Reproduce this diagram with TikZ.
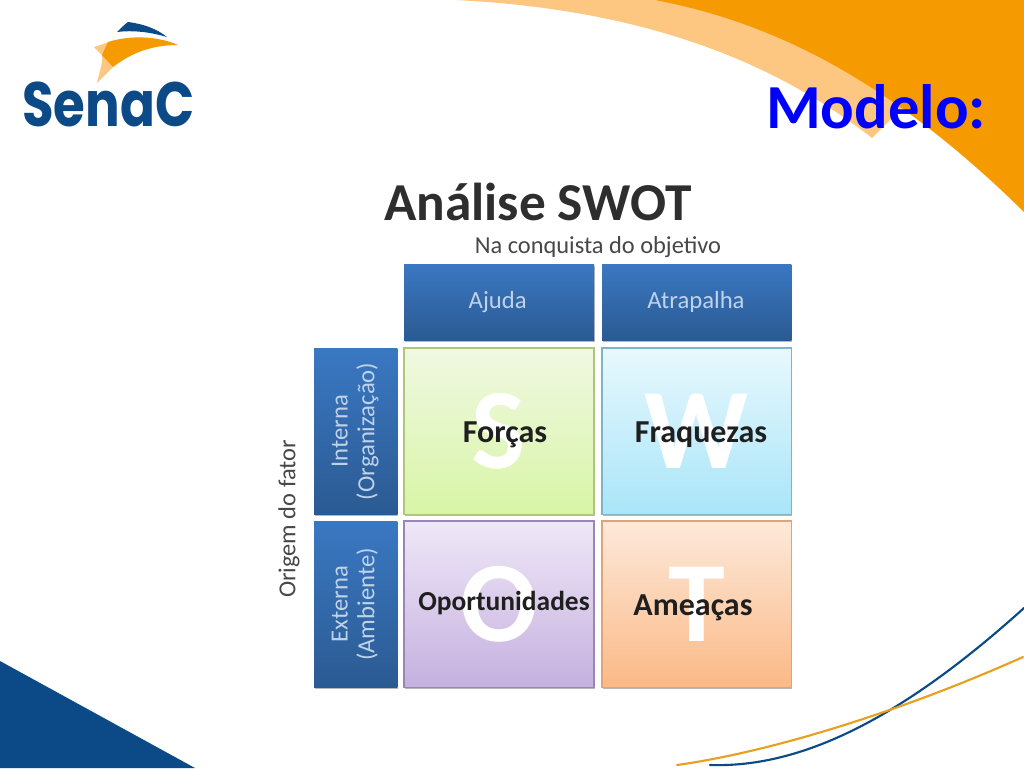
\documentclass[tikz,border=0pt]{standalone}
\usepackage{fontspec}
\setmainfont{Carlito}
\newfontfamily\logofont{Poppins}
\usetikzlibrary{shadows}
\definecolor{navy}{HTML}{0B4A86}
\definecolor{orangeM}{HTML}{F59A00}
\definecolor{orangeL}{HTML}{FDC681}
\definecolor{orangeLine}{HTML}{E8A020}
\definecolor{bluetop}{HTML}{3A78C2}
\definecolor{bluebot}{HTML}{2B5A92}
\definecolor{labeltxt}{HTML}{BFD2EA}
\definecolor{titletxt}{HTML}{2E2E2E}
\definecolor{gtop}{HTML}{F0F8E2}\definecolor{gbot}{HTML}{D8F5A6}\definecolor{gline}{HTML}{AEC57C}
\definecolor{ctop}{HTML}{E8F8FD}\definecolor{cbot}{HTML}{A9E5F9}\definecolor{cline}{HTML}{7FB4C8}
\definecolor{ptop}{HTML}{EFE8F7}\definecolor{pbot}{HTML}{C5B0DF}\definecolor{pline}{HTML}{9A86B4}
\definecolor{otop}{HTML}{FDE9DB}\definecolor{obot}{HTML}{FBB985}\definecolor{oline}{HTML}{DFA478}
\tikzset{
  px/.style={x=0.75pt,y=-0.75pt},
  shade box/.style={drop shadow={shadow xshift=0.5pt,shadow yshift=-1.2pt,opacity=0.28,fill=black}},
  headbox/.style={rectangle,inner sep=0pt,outer sep=0pt,shade box,top color=bluetop,bottom color=bluebot,align=center,text=labeltxt,font=\fontsize{18.5}{20}\selectfont},
  quad/.style={rectangle,inner sep=0pt,outer sep=0pt,shade box,line width=0.9pt,align=center,anchor=north west,minimum height=125pt},
  big/.style={text=white,font=\bfseries\fontsize{86}{86}\selectfont,inner sep=0pt},
  word/.style={text=black!88,font=\bfseries\fontsize{24}{26}\selectfont,inner sep=0pt,anchor=base},
  side/.style={text=black!72,font=\fontsize{18.3}{20}\selectfont,inner sep=0pt},
}
\begin{document}
\begin{tikzpicture}[px]
\useasboundingbox (0,0) rectangle (1024,768);
\fill[white] (0,0) rectangle (1024,768);
% orange swooshes
\fill[orangeL] (455,0) .. controls (620,8) and (760,50) .. (872,138) -- (905,105) -- (1024,0) -- cycle;
\fill[orangeM] (655,0) .. controls (760,20) and (880,70) .. (1024,212) -- (1024,0) -- cycle;
% logo
\fill[navy] (117,32) .. controls (121,28) and (124,25) .. (128,22) .. controls (144,24) and (157,29) .. (167,37) .. controls (150,32) and (133,30) .. (117,32) -- cycle;
\fill[orangeL] (94,47) -- (112,41) -- (113,67) -- (97,83) .. controls (100,70) and (103,62) .. (102,55) -- cycle;
\fill[orangeM] (108,42) .. controls (130,35) and (158,36) .. (178,45) .. controls (150,45) and (130,54) .. (113,67) -- (102,55) -- cycle;
\begin{scope}
\clip (0,60) rectangle (191,140);
\node[name=logo,inner sep=0pt,anchor=base west,text=navy] at (22,126) {\scalebox{0.82}[1]{\logofont\bfseries\fontsize{47}{47}\selectfont SenaC}};
\end{scope}
% title
\node[name=modelo,inner sep=0pt,anchor=base,text=blue,font=\bfseries\fontsize{47}{47}\selectfont] at (876,128) {Modelo:};
\node[name=title,inner sep=0pt,anchor=base,text=titletxt,font=\bfseries\fontsize{40}{40}\selectfont] at (538,220) {Análise SWOT};
\node[name=conq,side,anchor=base] at (598,253) {Na conquista do objetivo};
% header boxes
\node[name=ajuda,headbox,anchor=north west,minimum width=142.5pt,minimum height=57pt] at (404,264) {Ajuda\hspace{2pt}};
\node[name=atrap,headbox,anchor=north west,minimum width=142pt,minimum height=57pt] at (602,264) {Atrapalha\hspace{1pt}};
\node[name=interna,headbox,anchor=north west,minimum width=62.5pt,minimum height=125pt] at (314,348) {\rotatebox{90}{\begin{tabular}{@{}c@{}}Interna\\(Organização)\end{tabular}}};
\node[name=externa,headbox,anchor=north west,minimum width=62.5pt,minimum height=125pt] at (314,521) {\rotatebox{90}{\begin{tabular}{@{}c@{}}Externa\\(Ambiente)\end{tabular}}};
\node[name=origem,side,rotate=90] at (289,519) {Origem do fator};
% quadrants
\node[name=qs,quad,draw=gline,top color=gtop,bottom color=gbot,minimum width=142.5pt] at (404,348) {};
\node[name=qw,quad,draw=cline,top color=ctop,bottom color=cbot,minimum width=142pt] at (602,348) {};
\node[name=qo,quad,draw=pline,top color=ptop,bottom color=pbot,minimum width=142.5pt] at (404,521) {};
\node[name=qt,quad,draw=oline,top color=otop,bottom color=obot,minimum width=142pt] at (602,521) {};
\node[big] at (qs.center) {S};
\node[big] at (qw.center) {W};
\node[big] at (qo.center) {O};
\node[big] at (qt.center) {T};
\node[word] at (505,442) {Forças};
\node[word] at (701,442) {Fraquezas};
\node[word,font=\bfseries\fontsize{20.6}{23}\selectfont] at (504,610) {Oportunidades};
\node[word] at (693,615) {Ameaças};
% bottom shapes
\fill[navy] (0,661) -- (195,768) -- (0,768) -- cycle;
\draw[navy,line width=1.6pt,line cap=round] (710,765) .. controls (800,768) and (900,720) .. (1024,608);
\draw[orangeLine,line width=1.6pt,line cap=round] (677,765) .. controls (770,752) and (900,712) .. (1023,657);
\end{tikzpicture}
\end{document}
